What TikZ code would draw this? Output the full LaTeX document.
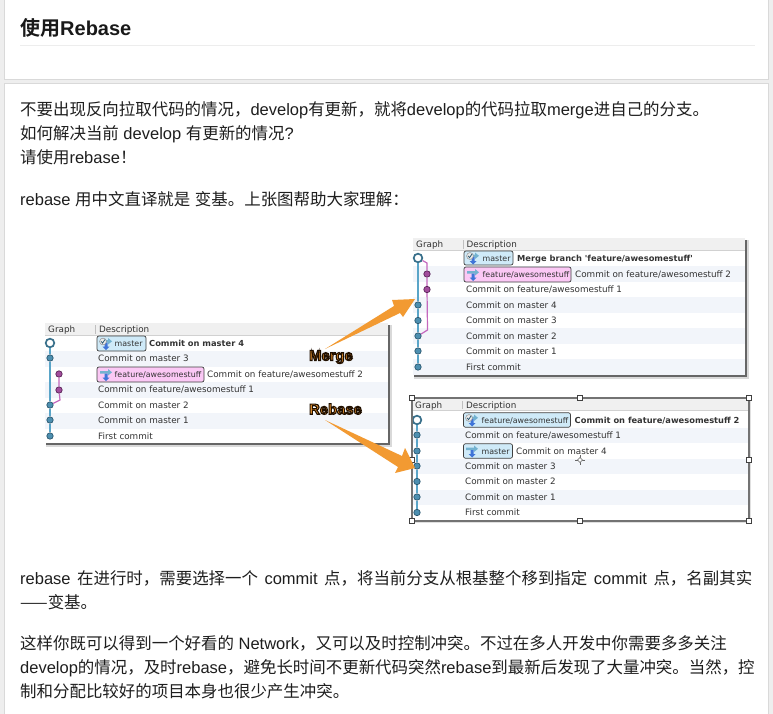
\documentclass[tikz,border=0pt]{standalone}
\usepackage{fontspec}
\setmainfont{Liberation Sans}
\newfontfamily\cjk{Noto Sans CJK SC}
\newfontfamily\cjkb{Noto Sans CJK SC Bold}
\newfontfamily\guifont{DejaVu Sans}
\newcommand{\C}[1]{{\cjk\fontsize{16.45}{18}\selectfont #1}}
\newcommand{\outl}[1]{\special{pdf:code q 2 Tr 1.1 w 0.12 0.06 0 RG}#1\special{pdf:code Q}}
\definecolor{pagegray}{HTML}{EEEEEE}
\definecolor{rowtint}{HTML}{F2F5FA}
\definecolor{hdr}{HTML}{F0F0F0}
\definecolor{laneblue}{HTML}{5AA5C8}
\definecolor{dotblue}{HTML}{4D8FB0}
\definecolor{dotedge}{HTML}{2A5870}
\definecolor{lanepink}{HTML}{C468BE}
\definecolor{dotpink}{HTML}{A24C9C}
\definecolor{dotpinkedge}{HTML}{5A2458}
\definecolor{tagblue}{HTML}{CFEAF8}
\definecolor{tagpink}{HTML}{FBC8F5}
\definecolor{orangearrow}{HTML}{F29A32}
\definecolor{bodytext}{HTML}{1E1E1E}
\tikzset{
  x=1pt,y=-1pt,
  txt/.style={anchor=base west,inner sep=0pt,font=\fontsize{16.5}{18}\selectfont,text=bodytext},
  gui/.style={anchor=base west,inner sep=0pt,font=\guifont\fontsize{8.8}{10}\selectfont,text=black!80},
  guib/.style={gui,font=\guifont\bfseries\fontsize{8.3}{10}\selectfont},
  tagtext/.style={gui,font=\guifont\fontsize{7.9}{10}\selectfont},
  tagbox/.style={draw=black!75,line width=.7pt,rounded corners=2pt,fill=#1},
  dot/.style={circle,inner sep=0pt,minimum size=6.4pt,fill=dotblue,draw=dotedge,line width=.7pt},
  pdot/.style={circle,inner sep=0pt,minimum size=6.4pt,fill=dotpink,draw=dotpinkedge,line width=.7pt},
  head/.style={circle,inner sep=0pt,minimum size=8.6pt,fill=white,draw=dotedge!70!laneblue,line width=1.7pt},
  blane/.style={draw=laneblue,line width=1.2pt},
  plane/.style={draw=lanepink,line width=1.2pt},
  handle/.style={draw=black!75,fill=white,line width=.6pt,inner sep=0pt,minimum size=5pt,rectangle},
  callout/.style={fill=orangearrow,draw=none},
  lbl/.style={inner sep=0pt,font=\bfseries\fontsize{14.8}{16}\selectfont,text=orangearrow},
}
\newcommand{\panelbase}[4]{% x1,y1,x2,y2
  \fill[white] (#1,#2) rectangle (#3,#4);
  \fill[hdr] (#1,#2) rectangle (#3,#2+12);
  \draw[black!18,line width=.5pt] (#1,#2+12) -- (#3,#2+12);
}
\newcommand{\panelbg}[4]{%
  \fill[black!15] (#1+1,#2+2) rectangle (#3+3.5,#4+4);
  \fill[black!60] (#1+1,#2+2) rectangle (#3+2,#4+2);
  \draw[black!20,line width=.5pt] (#1,#4) -- (#1,#2) -- (#3,#2);
  \panelbase{#1}{#2}{#3}{#4}
}
\newcommand{\gicon}[3]{% x,y centre,colour
  \begin{scope}[shift={(#1,#2)}]
    \fill[#3!85!white] (-6,-3.5) -- (2,-3.5) -- (2,-5.5) -- (6,-2.2) -- (2,1) -- (2,-1) -- (-6,-1) -- cycle;
    \fill[#3!70!blue] (-1.5,-1) -- (1.5,-1) -- (1.5,3) -- (3.5,3) -- (0,6.5) -- (-3.5,3) -- (-1.5,3) -- cycle;
  \end{scope}}
\newcommand{\gcheck}[2]{% active branch mark
  \begin{scope}[shift={(#1,#2)}]
    \fill[black!8,draw=black!45,line width=.5pt] (-3,-2) circle (3.4pt);
    \draw[dotedge,line width=.8pt] (-5,-2.2) -- (-3.4,-.4) -- (-1,-4);
  \end{scope}}
\begin{document}
\begin{tikzpicture}
\useasboundingbox (0,0) rectangle (773,714);
\fill[pagegray] (0,0) rectangle (773,714);
\fill[white] (4.5,0) rectangle (768,79);
\fill[white] (4.5,83) rectangle (768,714);
\draw[black!15,line width=.5pt] (4.5,0) -- (4.5,79) -- (768,79) -- (768,0);
\draw[black!15,line width=.5pt] (4.5,714) -- (4.5,83) -- (768,83) -- (768,714);
% heading
\node[anchor=base west,inner sep=0pt,text=black!90] (title) at (20,36) {\fontsize{20}{24}\selectfont\cjkb 使用\fontspec{Liberation Sans}\bfseries Rebase};
\draw[black!7,line width=1pt] (20,46) -- (755,46);
% body text top
\node[txt] (l1) at (20,116) {\C{不要出现反向拉取代码的情况，}develop\C{有更新，就将}develop\C{的代码拉取}merge\C{进自己的分支。}};
\node[txt] (l2) at (20,140) {\C{如何解决当前} develop \C{有更新的情况}?};
\node[txt] (l3) at (20,164) {\C{请使用}rebase\C{！}};
\node[txt] (l4) at (20,205) {rebase \C{用中文直译就是} \C{变基。上张图帮助大家理解：}};
% panel 1
\panelbg{45}{323}{388}{443}
\foreach \y in {351,382,413}{\fill[rowtint] (45,\y) rectangle (388,\y+15.5);}
\draw[black!25,line width=.5pt] (95,325) -- (95,334);
\node[gui] (p1g) at (48,332) {Graph};
\node[gui] (p1d) at (99,332) {Description};
\node[dot] (a2) at (50,358) {};
\node[pdot] (a3) at (59,374) {};
\node[pdot] (a4) at (59,390) {};
\node[dot] (a5) at (50,405) {};
\node[dot] (a6) at (50,420) {};
\node[dot] (a7) at (50,436) {};
\node[head] (a1) at (50,343) {};
\draw[blane] (a1) -- (a2) -- (a5) -- (a6) -- (a7);
\coordinate (a45) at (60,400);
\draw[plane] (a3) -- (a4) -- (a45) -- (a5);
\node[tagbox=tagblue,minimum width=49pt,minimum height=15pt,inner sep=0pt] (t1) at (121.5,343.5) {};
\gicon{106}{343.5}{laneblue}\gcheck{106}{343.5}
\node[tagtext] (t1x) at (114.5,346.5) {master};
\node[guib] (c14) at (149,346.5) {Commit on master 4};
\node[gui] (c13) at (98,361.5) {Commit on master 3};
\node[tagbox=tagpink,minimum width=107pt,minimum height=15pt,inner sep=0pt] (t2) at (150.5,374.5) {};
\gicon{106}{374.5}{laneblue}
\node[tagtext] (t2x) at (114.5,377.5) {feature/awesomestuff};
\node[gui] (c1f2) at (207,377.5) {Commit on feature/awesomestuff 2};
\node[gui] (c1f1) at (98,392.5) {Commit on feature/awesomestuff 1};
\node[gui] (c12) at (98,408.5) {Commit on master 2};
\node[gui] (c11) at (98,423.5) {Commit on master 1};
\node[gui] (c10) at (98,439.5) {First commit};
% panel 2
\panelbg{413}{238}{745}{375}
\foreach \y in {266,297,328,359}{\fill[rowtint] (413,\y) rectangle (745,\y+15.5);}
\draw[black!25,line width=.5pt] (463,240) -- (463,249);
\node[gui] (p2g) at (416,247) {Graph};
\node[gui] (p2d) at (466.5,247) {Description};
\node[pdot] (b2) at (427,274) {};
\node[pdot] (b3) at (427,289.5) {};
\node[dot] (b4) at (418,305) {};
\node[dot] (b5) at (418,320.5) {};
\node[dot] (b6) at (418,336) {};
\node[dot] (b7) at (418,351) {};
\node[dot] (b8) at (418,367) {};
\node[head] (b1) at (418,258) {};
\coordinate (b12) at (427,263);
\coordinate (b36) at (427.5,330);
\draw[plane] (b1) -- (b12) -- (b2) -- (b3) -- (b36) -- (b6);
\draw[blane] (b1) -- (b4) -- (b5) -- (b6) -- (b7) -- (b8);
\node[tagbox=tagblue,minimum width=49pt,minimum height=14pt,inner sep=0pt] (t3) at (488.5,258) {};
\gicon{473}{258}{laneblue}\gcheck{473}{258}
\node[tagtext] (t3x) at (482.5,261) {master};
\node[guib] (c2m) at (517,261) {Merge branch 'feature/awesomestuff'};
\node[tagbox=tagpink,minimum width=107pt,minimum height=15pt,inner sep=0pt] (t4) at (517.5,274.5) {};
\gicon{473}{274.5}{laneblue}
\node[tagtext] (t4x) at (482.5,277.5) {feature/awesomestuff};
\node[gui] (c2f2) at (575,277.5) {Commit on feature/awesomestuff 2};
\node[gui] (c2f1) at (466,292.5) {Commit on feature/awesomestuff 1};
\node[gui] (c24) at (466,308) {Commit on master 4};
\node[gui] (c23) at (466,323.5) {Commit on master 3};
\node[gui] (c22) at (466,339) {Commit on master 2};
\node[gui] (c21) at (466,354) {Commit on master 1};
\node[gui] (c20) at (466,370) {First commit};
% panel 3
\fill[black!12] (413,400) rectangle (751,523);
\panelbase{412}{398}{749}{521}
\foreach \y in {427.5,458.5,489.5}{\fill[rowtint] (412,\y) rectangle (749,\y+15.5);}
\draw[black!25,line width=.5pt] (462,401) -- (462,409);
\node[gui] (p3g) at (415,408) {Graph};
\node[gui] (p3d) at (466,408) {Description};
\node[dot] (d2) at (417,435) {};
\node[dot] (d3) at (417,451) {};
\node[dot] (d4) at (417,466) {};
\node[dot] (d5) at (417,481.5) {};
\node[dot] (d6) at (417,497) {};
\node[dot] (d7) at (417,512.5) {};
\node[head] (d1) at (417,420) {};
\draw[blane] (d1) -- (d2) -- (d3) -- (d4) -- (d5) -- (d6) -- (d7);
\node[tagbox=tagblue,minimum width=107pt,minimum height=14.5pt,inner sep=0pt] (t5) at (517,420) {};
\gicon{472}{420}{laneblue}\gcheck{472}{420}
\node[tagtext] (t5x) at (481.5,423) {feature/awesomestuff};
\node[guib] (c3f2) at (574.5,423) {Commit on feature/awesomestuff 2};
\node[gui] (c3f1) at (465,438) {Commit on feature/awesomestuff 1};
\node[tagbox=tagblue,minimum width=49pt,minimum height=14.5pt,inner sep=0pt] (t6) at (488,451) {};
\gicon{472}{451}{laneblue}
\node[tagtext] (t6x) at (481.5,454) {master};
\node[gui] (c34) at (516,454) {Commit on master 4};
\node[gui] (c33) at (465,469) {Commit on master 3};
\node[gui] (c32) at (465,484.5) {Commit on master 2};
\node[gui] (c31) at (465,500) {Commit on master 1};
\node[gui] (c30) at (465,515.5) {First commit};
\draw[black!55,line width=1.1pt] (412,398) rectangle (749,521);
\node[handle] (h1) at (412,398) {};
\node[handle] (h2) at (580,398) {};
\node[handle] (h3) at (749,398) {};
\node[handle] (h4) at (412,459.5) {};
\node[handle] (h5) at (749,459.5) {};
\node[handle] (h6) at (412,521) {};
\node[handle] (h7) at (580,521) {};
\node[handle] (h8) at (749,521) {};
% cursor
\draw[black!60,line width=.5pt] (580,455) -- (580,465) (575,460) -- (585,460);
\draw[black!60,fill=white,line width=.5pt] (580,457.5) -- (582.5,460) -- (580,462.5) -- (577.5,460) -- cycle;
% callouts
\coordinate (mtail) at (325,349);
\coordinate (rtail) at (325,420);
\coordinate (mtip) at (415,299);
\coordinate (rtip) at (415,468);
\fill[callout] (mtail) -- (394,306) -- (392,300) -- (mtip) -- (403,317) -- (400,313) -- cycle;
\fill[callout] (rtail) -- (402,456) -- (405,448) -- (rtip) -- (395,473) -- (398,467) -- cycle;
\node[lbl] (merge) at (331,357) {\outl{Merge}};
\node[lbl] (rebase) at (335.5,409) {\outl{Rebase}};
% body text bottom
\node[txt] (l5) at (20,584) {\hbox to 732pt{rebase\hfill\C{在进行时，需要选择一个}\hfill commit\hfill\C{点，将当前分支从根基整个移到指定}\hfill commit\hfill\C{点，名副其实}}};
\node[txt] (l6) at (20,608) {\C{——变基。}};
\node[txt] (l7) at (20,649) {\C{这样你既可以得到一个好看的} Network\C{，又可以及时控制冲突。不过在多人开发中你需要多多关注}};
\node[txt] (l8) at (20,673) {develop\C{的情况，及时}rebase\C{，避免长时间不更新代码突然}rebase\C{到最新后发现了大量冲突。当然，控}};
\node[txt] (l9) at (20,697) {\C{制和分配比较好的项目本身也很少产生冲突。}};
\end{tikzpicture}
\end{document}
